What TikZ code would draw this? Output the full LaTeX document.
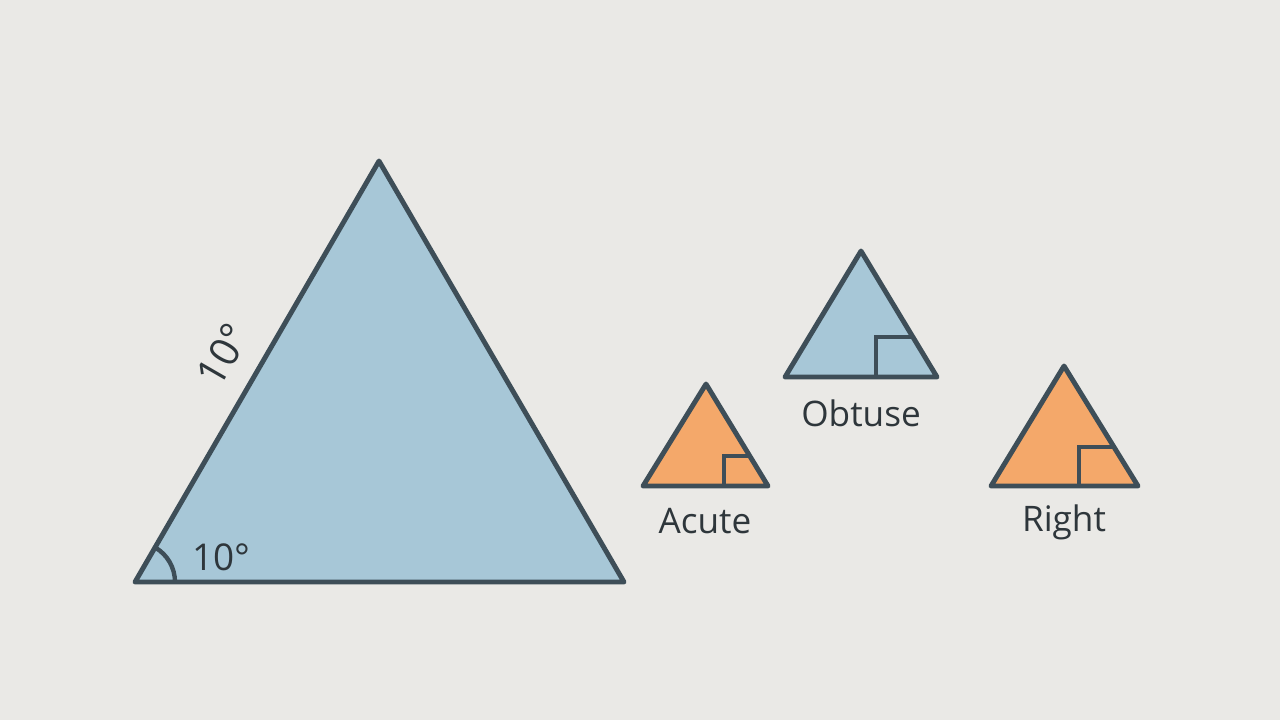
\documentclass[tikz,border=0pt]{standalone}
\usepackage{fontspec}
\setmainfont{Open Sans}
\usepackage{tikz}
\usetikzlibrary{calc}
\definecolor{paper}{HTML}{EAE9E6}
\definecolor{edge}{HTML}{3E4E58}
\definecolor{skyfill}{HTML}{A7C7D7}
\definecolor{peachfill}{HTML}{F4A86A}
\definecolor{ink}{HTML}{2E363B}

\tikzset{
  tri/.style={draw=edge, line width=1.4pt, line join=round},
  anglemark/.style={draw=edge, line width=1.25pt},
  tag/.style={text=ink, font=\fontsize{10}{12}\selectfont, inner sep=0pt},
  degtag/.style={text=ink, font=\fontsize{10.5}{12}\selectfont, inner sep=0pt}
}

\begin{document}
\begin{tikzpicture}[x=0.01cm,y=-0.01cm]
      \fill[paper] (0,0) rectangle (1280,720);
      \useasboundingbox (0,0) rectangle (1280,720);

      % large triangle
      \coordinate (bigL) at (135,582);
      \coordinate (bigT) at (379,161);
      \coordinate (bigR) at (624,582);
      \filldraw[tri, fill=skyfill] (bigL) -- (bigT) -- (bigR) -- cycle;
      \draw[anglemark] ($(bigL)+(40,0)$) arc[start angle=0, end angle=-60, radius=40];
      \node[degtag, anchor=west] (bigang) at (192,557) {10°};
      \node[degtag, rotate=60, font=\fontsize{11.5}{13}\selectfont] (bigside) at (223,355) {10°};

      % acute
      \coordinate (acL) at (643,486);
      \coordinate (acT) at (706,384);
      \coordinate (acR) at (768,486);
      \filldraw[tri, fill=peachfill] (acL) -- (acT) -- (acR) -- cycle;
      \draw[anglemark] (724,486) -- (724,456) -- (749,456);
      \node[tag] (acute) at (705,521) {Acute};

      % obtuse
      \coordinate (obL) at (785,377);
      \coordinate (obT) at (861,251);
      \coordinate (obR) at (937,377);
      \filldraw[tri, fill=skyfill] (obL) -- (obT) -- (obR) -- cycle;
      \draw[anglemark] (876,377) -- (876,337) -- (912,337);
      \node[tag] (obtuse) at (861,413) {Obtuse};

      % right
      \coordinate (rtL) at (991,486);
      \coordinate (rtT) at (1064,366);
      \coordinate (rtR) at (1138,486);
      \filldraw[tri, fill=peachfill] (rtL) -- (rtT) -- (rtR) -- cycle;
      \draw[anglemark] (1079,486) -- (1079,447) -- (1113,447);
      \node[tag] (right) at (1064,522) {Right};
\end{tikzpicture}
\end{document}
